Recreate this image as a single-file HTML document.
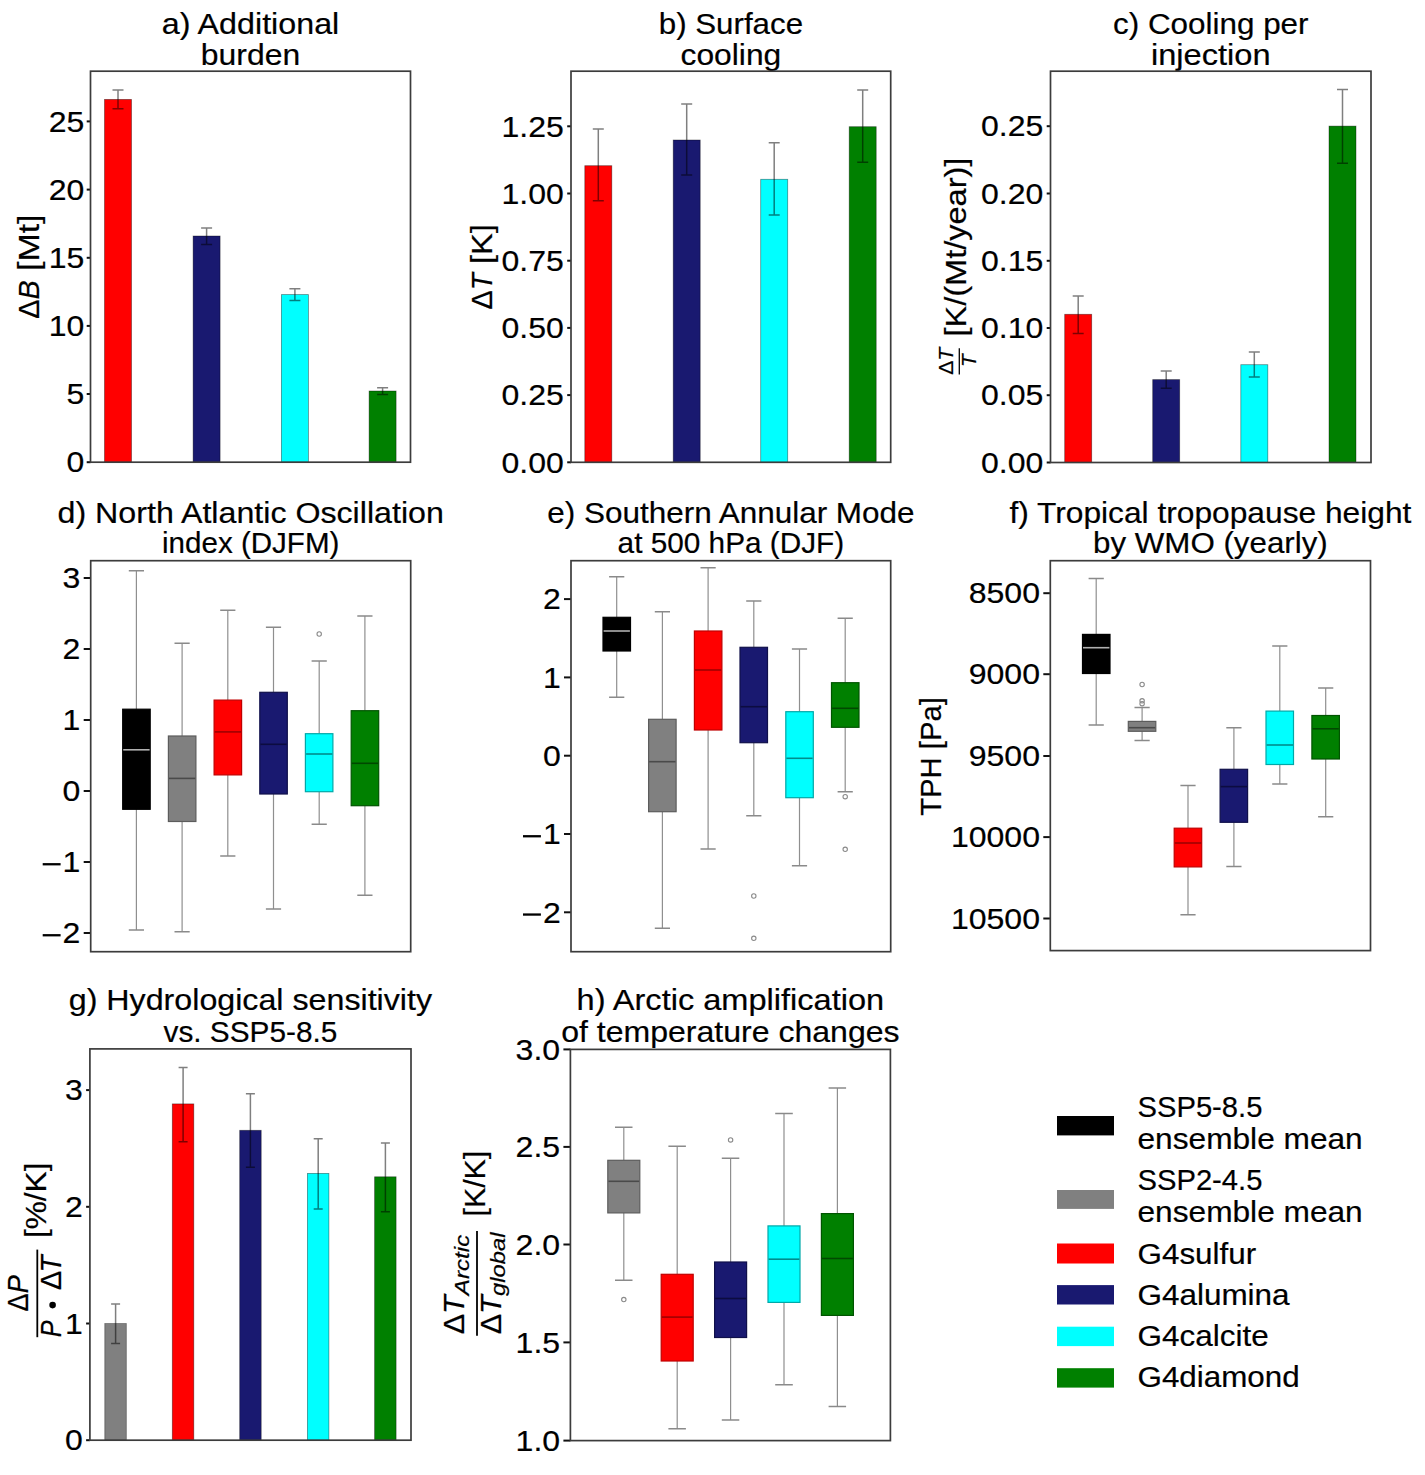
<!DOCTYPE html>
<html><head><meta charset="utf-8"><title>Figure</title>
<style>
html,body{margin:0;padding:0;background:#fff;}
body{width:1425px;height:1475px;overflow:hidden;}
svg{display:block;}
text{font-family:"Liberation Sans",sans-serif;fill:#000;stroke:#000;stroke-width:0.2px;}
</style></head>
<body>
<svg width="1425" height="1475" viewBox="0 0 1425 1475">
<rect width="1425" height="1475" fill="#fff"/>
<text x="250.5" y="33.8" font-size="29.5" text-anchor="middle" textLength="177.5" lengthAdjust="spacingAndGlyphs">a) Additional</text>
<text x="250.5" y="65.4" font-size="29.5" text-anchor="middle" textLength="99.3" lengthAdjust="spacingAndGlyphs">burden</text>
<line x1="86.7" y1="462.2" x2="90.5" y2="462.2" stroke="#111" stroke-width="2"/>
<text x="84.3" y="472.4" font-size="29.5" text-anchor="end" textLength="17.8" lengthAdjust="spacingAndGlyphs">0</text>
<line x1="86.7" y1="394.0" x2="90.5" y2="394.0" stroke="#111" stroke-width="2"/>
<text x="84.3" y="404.2" font-size="29.5" text-anchor="end" textLength="17.8" lengthAdjust="spacingAndGlyphs">5</text>
<line x1="86.7" y1="325.9" x2="90.5" y2="325.9" stroke="#111" stroke-width="2"/>
<text x="84.3" y="336.1" font-size="29.5" text-anchor="end" textLength="35.6" lengthAdjust="spacingAndGlyphs">10</text>
<line x1="86.7" y1="257.8" x2="90.5" y2="257.8" stroke="#111" stroke-width="2"/>
<text x="84.3" y="267.9" font-size="29.5" text-anchor="end" textLength="35.6" lengthAdjust="spacingAndGlyphs">15</text>
<line x1="86.7" y1="189.6" x2="90.5" y2="189.6" stroke="#111" stroke-width="2"/>
<text x="84.3" y="199.8" font-size="29.5" text-anchor="end" textLength="35.6" lengthAdjust="spacingAndGlyphs">20</text>
<line x1="86.7" y1="121.4" x2="90.5" y2="121.4" stroke="#111" stroke-width="2"/>
<text x="84.3" y="131.6" font-size="29.5" text-anchor="end" textLength="35.6" lengthAdjust="spacingAndGlyphs">25</text>
<rect x="104.5" y="99.4" width="27.0" height="362.8" fill="#ff0000" stroke="rgba(0,0,0,0.45)" stroke-width="0.8"/>
<path d="M118.0 90.1V108.7M112.5 90.1H123.5M112.5 108.7H123.5" stroke="#000" stroke-opacity="0.5" stroke-width="1.5" fill="none"/>
<rect x="193.1" y="236.0" width="27.0" height="226.2" fill="#191970" stroke="rgba(0,0,0,0.45)" stroke-width="0.8"/>
<path d="M206.6 227.9V244.4M201.1 227.9H212.1M201.1 244.4H212.1" stroke="#000" stroke-opacity="0.5" stroke-width="1.5" fill="none"/>
<rect x="281.4" y="294.6" width="27.0" height="167.6" fill="#00ffff" stroke="rgba(0,0,0,0.45)" stroke-width="0.8"/>
<path d="M294.9 288.7V300.5M289.4 288.7H300.4M289.4 300.5H300.4" stroke="#000" stroke-opacity="0.5" stroke-width="1.5" fill="none"/>
<rect x="369.1" y="391.0" width="27.0" height="71.2" fill="#008000" stroke="rgba(0,0,0,0.45)" stroke-width="0.8"/>
<path d="M382.6 387.8V394.4M377.1 387.8H388.1M377.1 394.4H388.1" stroke="#000" stroke-opacity="0.5" stroke-width="1.5" fill="none"/>
<rect x="90.5" y="71.2" width="320.0" height="391.0" fill="none" stroke="#3c3c3c" stroke-width="1.7"/>
<text x="730.9" y="33.8" font-size="29.5" text-anchor="middle" textLength="144.3" lengthAdjust="spacingAndGlyphs">b) Surface</text>
<text x="730.9" y="65.4" font-size="29.5" text-anchor="middle" textLength="100.7" lengthAdjust="spacingAndGlyphs">cooling</text>
<line x1="567.2" y1="462.3" x2="571.0" y2="462.3" stroke="#111" stroke-width="2"/>
<text x="563.8" y="472.5" font-size="29.5" text-anchor="end" textLength="62.3" lengthAdjust="spacingAndGlyphs">0.00</text>
<line x1="567.2" y1="395.1" x2="571.0" y2="395.1" stroke="#111" stroke-width="2"/>
<text x="563.8" y="405.3" font-size="29.5" text-anchor="end" textLength="62.3" lengthAdjust="spacingAndGlyphs">0.25</text>
<line x1="567.2" y1="327.9" x2="571.0" y2="327.9" stroke="#111" stroke-width="2"/>
<text x="563.8" y="338.1" font-size="29.5" text-anchor="end" textLength="62.3" lengthAdjust="spacingAndGlyphs">0.50</text>
<line x1="567.2" y1="260.7" x2="571.0" y2="260.7" stroke="#111" stroke-width="2"/>
<text x="563.8" y="270.9" font-size="29.5" text-anchor="end" textLength="62.3" lengthAdjust="spacingAndGlyphs">0.75</text>
<line x1="567.2" y1="193.5" x2="571.0" y2="193.5" stroke="#111" stroke-width="2"/>
<text x="563.8" y="203.7" font-size="29.5" text-anchor="end" textLength="62.3" lengthAdjust="spacingAndGlyphs">1.00</text>
<line x1="567.2" y1="126.3" x2="571.0" y2="126.3" stroke="#111" stroke-width="2"/>
<text x="563.8" y="136.5" font-size="29.5" text-anchor="end" textLength="62.3" lengthAdjust="spacingAndGlyphs">1.25</text>
<rect x="584.8" y="165.7" width="27.0" height="296.6" fill="#ff0000" stroke="rgba(0,0,0,0.45)" stroke-width="0.8"/>
<path d="M598.3 129.0V200.7M592.8 129.0H603.8M592.8 200.7H603.8" stroke="#000" stroke-opacity="0.5" stroke-width="1.5" fill="none"/>
<rect x="673.2" y="140.0" width="27.0" height="322.3" fill="#191970" stroke="rgba(0,0,0,0.45)" stroke-width="0.8"/>
<path d="M686.7 104.0V175.0M681.2 104.0H692.2M681.2 175.0H692.2" stroke="#000" stroke-opacity="0.5" stroke-width="1.5" fill="none"/>
<rect x="760.7" y="179.3" width="27.0" height="283.0" fill="#00ffff" stroke="rgba(0,0,0,0.45)" stroke-width="0.8"/>
<path d="M774.2 142.7V215.0M768.7 142.7H779.7M768.7 215.0H779.7" stroke="#000" stroke-opacity="0.5" stroke-width="1.5" fill="none"/>
<rect x="849.2" y="126.7" width="27.0" height="335.6" fill="#008000" stroke="rgba(0,0,0,0.45)" stroke-width="0.8"/>
<path d="M862.7 90.0V162.3M857.2 90.0H868.2M857.2 162.3H868.2" stroke="#000" stroke-opacity="0.5" stroke-width="1.5" fill="none"/>
<rect x="571.0" y="71.2" width="319.7" height="391.1" fill="none" stroke="#3c3c3c" stroke-width="1.7"/>
<text x="1210.8" y="33.8" font-size="29.5" text-anchor="middle" textLength="195.5" lengthAdjust="spacingAndGlyphs">c) Cooling per</text>
<text x="1210.8" y="65.4" font-size="29.5" text-anchor="middle" textLength="119.6" lengthAdjust="spacingAndGlyphs">injection</text>
<line x1="1046.7" y1="462.5" x2="1050.5" y2="462.5" stroke="#111" stroke-width="2"/>
<text x="1043.3" y="472.7" font-size="29.5" text-anchor="end" textLength="62.3" lengthAdjust="spacingAndGlyphs">0.00</text>
<line x1="1046.7" y1="395.2" x2="1050.5" y2="395.2" stroke="#111" stroke-width="2"/>
<text x="1043.3" y="405.4" font-size="29.5" text-anchor="end" textLength="62.3" lengthAdjust="spacingAndGlyphs">0.05</text>
<line x1="1046.7" y1="328.0" x2="1050.5" y2="328.0" stroke="#111" stroke-width="2"/>
<text x="1043.3" y="338.2" font-size="29.5" text-anchor="end" textLength="62.3" lengthAdjust="spacingAndGlyphs">0.10</text>
<line x1="1046.7" y1="260.8" x2="1050.5" y2="260.8" stroke="#111" stroke-width="2"/>
<text x="1043.3" y="270.9" font-size="29.5" text-anchor="end" textLength="62.3" lengthAdjust="spacingAndGlyphs">0.15</text>
<line x1="1046.7" y1="193.5" x2="1050.5" y2="193.5" stroke="#111" stroke-width="2"/>
<text x="1043.3" y="203.7" font-size="29.5" text-anchor="end" textLength="62.3" lengthAdjust="spacingAndGlyphs">0.20</text>
<line x1="1046.7" y1="126.2" x2="1050.5" y2="126.2" stroke="#111" stroke-width="2"/>
<text x="1043.3" y="136.4" font-size="29.5" text-anchor="end" textLength="62.3" lengthAdjust="spacingAndGlyphs">0.25</text>
<rect x="1064.7" y="314.3" width="27.0" height="148.2" fill="#ff0000" stroke="rgba(0,0,0,0.45)" stroke-width="0.8"/>
<path d="M1078.2 296.0V333.4M1072.7 296.0H1083.7M1072.7 333.4H1083.7" stroke="#000" stroke-opacity="0.5" stroke-width="1.5" fill="none"/>
<rect x="1152.7" y="379.6" width="27.0" height="82.9" fill="#191970" stroke="rgba(0,0,0,0.45)" stroke-width="0.8"/>
<path d="M1166.2 371.0V388.3M1160.7 371.0H1171.7M1160.7 388.3H1171.7" stroke="#000" stroke-opacity="0.5" stroke-width="1.5" fill="none"/>
<rect x="1240.8" y="364.7" width="27.0" height="97.8" fill="#00ffff" stroke="rgba(0,0,0,0.45)" stroke-width="0.8"/>
<path d="M1254.3 351.9V376.9M1248.8 351.9H1259.8M1248.8 376.9H1259.8" stroke="#000" stroke-opacity="0.5" stroke-width="1.5" fill="none"/>
<rect x="1329.0" y="126.1" width="27.0" height="336.4" fill="#008000" stroke="rgba(0,0,0,0.45)" stroke-width="0.8"/>
<path d="M1342.5 89.6V163.3M1337.0 89.6H1348.0M1337.0 163.3H1348.0" stroke="#000" stroke-opacity="0.5" stroke-width="1.5" fill="none"/>
<rect x="1050.5" y="71.2" width="320.5" height="391.3" fill="none" stroke="#3c3c3c" stroke-width="1.7"/>
<text x="250.7" y="522.6" font-size="29.5" text-anchor="middle" textLength="386.3" lengthAdjust="spacingAndGlyphs">d) North Atlantic Oscillation</text>
<text x="250.7" y="553.4" font-size="29.5" text-anchor="middle" textLength="177.4" lengthAdjust="spacingAndGlyphs">index (DJFM)</text>
<line x1="83.7" y1="578.0" x2="90.7" y2="578.0" stroke="#111" stroke-width="2"/>
<text x="80.4" y="588.2" font-size="29.5" text-anchor="end" textLength="17.8" lengthAdjust="spacingAndGlyphs">3</text>
<line x1="83.7" y1="649.0" x2="90.7" y2="649.0" stroke="#111" stroke-width="2"/>
<text x="80.4" y="659.2" font-size="29.5" text-anchor="end" textLength="17.8" lengthAdjust="spacingAndGlyphs">2</text>
<line x1="83.7" y1="720.0" x2="90.7" y2="720.0" stroke="#111" stroke-width="2"/>
<text x="80.4" y="730.2" font-size="29.5" text-anchor="end" textLength="17.8" lengthAdjust="spacingAndGlyphs">1</text>
<line x1="83.7" y1="791.0" x2="90.7" y2="791.0" stroke="#111" stroke-width="2"/>
<text x="80.4" y="801.2" font-size="29.5" text-anchor="end" textLength="17.8" lengthAdjust="spacingAndGlyphs">0</text>
<line x1="83.7" y1="862.0" x2="90.7" y2="862.0" stroke="#111" stroke-width="2"/>
<text x="80.4" y="872.2" font-size="29.5" text-anchor="end" textLength="17.8" lengthAdjust="spacingAndGlyphs">1</text>
<rect x="42.7" y="863.1" width="17.9" height="2.3" fill="#000"/>
<line x1="83.7" y1="933.0" x2="90.7" y2="933.0" stroke="#111" stroke-width="2"/>
<text x="80.4" y="943.2" font-size="29.5" text-anchor="end" textLength="17.8" lengthAdjust="spacingAndGlyphs">2</text>
<rect x="42.7" y="934.1" width="17.9" height="2.3" fill="#000"/>
<path d="M136.4 570.8V709.2M136.4 809.3V930.0" stroke="#8f8f8f" stroke-width="1.2" fill="none"/>
<path d="M128.8 570.8H144.0M128.8 930.0H144.0" stroke="#8a8a8a" stroke-width="1.5" fill="none"/>
<rect x="122.7" y="709.2" width="27.5" height="100.1" fill="#000000" stroke="#000" stroke-width="1.2"/>
<line x1="123.2" y1="749.8" x2="149.6" y2="749.8" stroke="#b0b0b0" stroke-width="1.6"/>
<path d="M182.1 643.3V736.0M182.1 821.5V931.7" stroke="#8f8f8f" stroke-width="1.2" fill="none"/>
<path d="M174.5 643.3H189.7M174.5 931.7H189.7" stroke="#8a8a8a" stroke-width="1.5" fill="none"/>
<rect x="168.4" y="736.0" width="27.5" height="85.5" fill="#808080" stroke="#5c5c5c" stroke-width="1.2"/>
<line x1="169.0" y1="778.4" x2="195.3" y2="778.4" stroke="#4a4a4a" stroke-width="1.6"/>
<path d="M227.8 610.3V700.1M227.8 774.9V856.0" stroke="#8f8f8f" stroke-width="1.2" fill="none"/>
<path d="M220.2 610.3H235.4M220.2 856.0H235.4" stroke="#8a8a8a" stroke-width="1.5" fill="none"/>
<rect x="214.1" y="700.1" width="27.5" height="74.8" fill="#ff0000" stroke="#c00000" stroke-width="1.2"/>
<line x1="214.7" y1="731.9" x2="241.0" y2="731.9" stroke="#a00000" stroke-width="1.6"/>
<path d="M273.5 627.3V692.3M273.5 794.0V909.0" stroke="#8f8f8f" stroke-width="1.2" fill="none"/>
<path d="M265.9 627.3H281.1M265.9 909.0H281.1" stroke="#8a8a8a" stroke-width="1.5" fill="none"/>
<rect x="259.8" y="692.3" width="27.5" height="101.7" fill="#191970" stroke="#10104a" stroke-width="1.2"/>
<line x1="260.4" y1="744.3" x2="286.6" y2="744.3" stroke="#0c0c40" stroke-width="1.6"/>
<path d="M319.2 661.0V733.7M319.2 791.7V824.3" stroke="#8f8f8f" stroke-width="1.2" fill="none"/>
<path d="M311.6 661.0H326.8M311.6 824.3H326.8" stroke="#8a8a8a" stroke-width="1.5" fill="none"/>
<rect x="305.4" y="733.7" width="27.5" height="58.0" fill="#00ffff" stroke="#00a8a8" stroke-width="1.2"/>
<line x1="306.1" y1="754.0" x2="332.3" y2="754.0" stroke="#008c8c" stroke-width="1.6"/>
<circle cx="319.2" cy="634.0" r="2.2" fill="none" stroke="#8a8a8a" stroke-width="1.1"/>
<path d="M364.9 616.0V710.7M364.9 805.7V895.3" stroke="#8f8f8f" stroke-width="1.2" fill="none"/>
<path d="M357.3 616.0H372.5M357.3 895.3H372.5" stroke="#8a8a8a" stroke-width="1.5" fill="none"/>
<rect x="351.2" y="710.7" width="27.5" height="95.0" fill="#008000" stroke="#005400" stroke-width="1.2"/>
<line x1="351.8" y1="763.3" x2="378.1" y2="763.3" stroke="#004800" stroke-width="1.6"/>
<rect x="90.7" y="560.7" width="320.0" height="391.0" fill="none" stroke="#3c3c3c" stroke-width="1.7"/>
<text x="730.9" y="522.6" font-size="29.5" text-anchor="middle" textLength="367.4" lengthAdjust="spacingAndGlyphs">e) Southern Annular Mode</text>
<text x="730.9" y="553.4" font-size="29.5" text-anchor="middle" textLength="226.6" lengthAdjust="spacingAndGlyphs">at 500 hPa (DJF)</text>
<line x1="564.0" y1="599.1" x2="571.0" y2="599.1" stroke="#111" stroke-width="2"/>
<text x="560.7" y="609.3" font-size="29.5" text-anchor="end" textLength="17.8" lengthAdjust="spacingAndGlyphs">2</text>
<line x1="564.0" y1="677.4" x2="571.0" y2="677.4" stroke="#111" stroke-width="2"/>
<text x="560.7" y="687.6" font-size="29.5" text-anchor="end" textLength="17.8" lengthAdjust="spacingAndGlyphs">1</text>
<line x1="564.0" y1="755.7" x2="571.0" y2="755.7" stroke="#111" stroke-width="2"/>
<text x="560.7" y="765.9" font-size="29.5" text-anchor="end" textLength="17.8" lengthAdjust="spacingAndGlyphs">0</text>
<line x1="564.0" y1="834.0" x2="571.0" y2="834.0" stroke="#111" stroke-width="2"/>
<text x="560.7" y="844.2" font-size="29.5" text-anchor="end" textLength="17.8" lengthAdjust="spacingAndGlyphs">1</text>
<rect x="523.0" y="835.1" width="17.9" height="2.3" fill="#000"/>
<line x1="564.0" y1="912.3" x2="571.0" y2="912.3" stroke="#111" stroke-width="2"/>
<text x="560.7" y="922.5" font-size="29.5" text-anchor="end" textLength="17.8" lengthAdjust="spacingAndGlyphs">2</text>
<rect x="523.0" y="913.4" width="17.9" height="2.3" fill="#000"/>
<path d="M616.7 576.7V617.3M616.7 651.0V697.3" stroke="#8f8f8f" stroke-width="1.2" fill="none"/>
<path d="M609.1 576.7H624.3M609.1 697.3H624.3" stroke="#8a8a8a" stroke-width="1.5" fill="none"/>
<rect x="603.0" y="617.3" width="27.5" height="33.7" fill="#000000" stroke="#000" stroke-width="1.2"/>
<line x1="603.6" y1="631.0" x2="629.9" y2="631.0" stroke="#b0b0b0" stroke-width="1.6"/>
<path d="M662.4 611.7V719.3M662.4 811.7V928.3" stroke="#8f8f8f" stroke-width="1.2" fill="none"/>
<path d="M654.8 611.7H670.0M654.8 928.3H670.0" stroke="#8a8a8a" stroke-width="1.5" fill="none"/>
<rect x="648.6" y="719.3" width="27.5" height="92.4" fill="#808080" stroke="#5c5c5c" stroke-width="1.2"/>
<line x1="649.2" y1="761.7" x2="675.5" y2="761.7" stroke="#4a4a4a" stroke-width="1.6"/>
<path d="M708.1 567.7V631.0M708.1 730.0V849.0" stroke="#8f8f8f" stroke-width="1.2" fill="none"/>
<path d="M700.5 567.7H715.7M700.5 849.0H715.7" stroke="#8a8a8a" stroke-width="1.5" fill="none"/>
<rect x="694.4" y="631.0" width="27.5" height="99.0" fill="#ff0000" stroke="#c00000" stroke-width="1.2"/>
<line x1="695.0" y1="670.0" x2="721.2" y2="670.0" stroke="#a00000" stroke-width="1.6"/>
<path d="M753.8 601.0V647.3M753.8 742.7V815.7" stroke="#8f8f8f" stroke-width="1.2" fill="none"/>
<path d="M746.2 601.0H761.4M746.2 815.7H761.4" stroke="#8a8a8a" stroke-width="1.5" fill="none"/>
<rect x="740.0" y="647.3" width="27.5" height="95.4" fill="#191970" stroke="#10104a" stroke-width="1.2"/>
<line x1="740.6" y1="706.7" x2="766.9" y2="706.7" stroke="#0c0c40" stroke-width="1.6"/>
<circle cx="753.8" cy="896.0" r="2.2" fill="none" stroke="#8a8a8a" stroke-width="1.1"/>
<circle cx="753.8" cy="938.3" r="2.2" fill="none" stroke="#8a8a8a" stroke-width="1.1"/>
<path d="M799.5 649.0V711.7M799.5 797.7V865.7" stroke="#8f8f8f" stroke-width="1.2" fill="none"/>
<path d="M791.9 649.0H807.1M791.9 865.7H807.1" stroke="#8a8a8a" stroke-width="1.5" fill="none"/>
<rect x="785.8" y="711.7" width="27.5" height="86.0" fill="#00ffff" stroke="#00a8a8" stroke-width="1.2"/>
<line x1="786.4" y1="758.3" x2="812.6" y2="758.3" stroke="#008c8c" stroke-width="1.6"/>
<path d="M845.2 618.3V682.7M845.2 727.3V791.7" stroke="#8f8f8f" stroke-width="1.2" fill="none"/>
<path d="M837.6 618.3H852.8M837.6 791.7H852.8" stroke="#8a8a8a" stroke-width="1.5" fill="none"/>
<rect x="831.5" y="682.7" width="27.5" height="44.6" fill="#008000" stroke="#005400" stroke-width="1.2"/>
<line x1="832.1" y1="708.3" x2="858.4" y2="708.3" stroke="#004800" stroke-width="1.6"/>
<circle cx="845.2" cy="796.7" r="2.2" fill="none" stroke="#8a8a8a" stroke-width="1.1"/>
<circle cx="845.2" cy="849.3" r="2.2" fill="none" stroke="#8a8a8a" stroke-width="1.1"/>
<rect x="571.0" y="560.7" width="319.7" height="391.0" fill="none" stroke="#3c3c3c" stroke-width="1.7"/>
<text x="1210.4" y="522.6" font-size="29.5" text-anchor="middle" textLength="402.0" lengthAdjust="spacingAndGlyphs">f) Tropical tropopause height</text>
<text x="1210.4" y="553.4" font-size="29.5" text-anchor="middle" textLength="234.7" lengthAdjust="spacingAndGlyphs">by WMO (yearly)</text>
<line x1="1043.3" y1="593.2" x2="1050.3" y2="593.2" stroke="#111" stroke-width="2"/>
<text x="1040.0" y="603.4" font-size="29.5" text-anchor="end" textLength="71.3" lengthAdjust="spacingAndGlyphs">8500</text>
<line x1="1043.3" y1="674.2" x2="1050.3" y2="674.2" stroke="#111" stroke-width="2"/>
<text x="1040.0" y="684.4" font-size="29.5" text-anchor="end" textLength="71.3" lengthAdjust="spacingAndGlyphs">9000</text>
<line x1="1043.3" y1="756.0" x2="1050.3" y2="756.0" stroke="#111" stroke-width="2"/>
<text x="1040.0" y="766.2" font-size="29.5" text-anchor="end" textLength="71.3" lengthAdjust="spacingAndGlyphs">9500</text>
<line x1="1043.3" y1="837.1" x2="1050.3" y2="837.1" stroke="#111" stroke-width="2"/>
<text x="1040.0" y="847.3" font-size="29.5" text-anchor="end" textLength="89.1" lengthAdjust="spacingAndGlyphs">10000</text>
<line x1="1043.3" y1="918.5" x2="1050.3" y2="918.5" stroke="#111" stroke-width="2"/>
<text x="1040.0" y="928.7" font-size="29.5" text-anchor="end" textLength="89.1" lengthAdjust="spacingAndGlyphs">10500</text>
<path d="M1096.2 578.4V634.4M1096.2 673.5V725.1" stroke="#8f8f8f" stroke-width="1.2" fill="none"/>
<path d="M1088.6 578.4H1103.8M1088.6 725.1H1103.8" stroke="#8a8a8a" stroke-width="1.5" fill="none"/>
<rect x="1082.5" y="634.4" width="27.5" height="39.1" fill="#000000" stroke="#000" stroke-width="1.2"/>
<line x1="1083.0" y1="647.7" x2="1109.4" y2="647.7" stroke="#b0b0b0" stroke-width="1.6"/>
<path d="M1142.1 707.4V721.4M1142.1 731.3V740.5" stroke="#8f8f8f" stroke-width="1.2" fill="none"/>
<path d="M1134.5 707.4H1149.7M1134.5 740.5H1149.7" stroke="#8a8a8a" stroke-width="1.5" fill="none"/>
<rect x="1128.3" y="721.4" width="27.5" height="9.9" fill="#808080" stroke="#5c5c5c" stroke-width="1.2"/>
<line x1="1128.9" y1="727.7" x2="1155.2" y2="727.7" stroke="#4a4a4a" stroke-width="1.6"/>
<circle cx="1142.1" cy="684.5" r="2.2" fill="none" stroke="#8a8a8a" stroke-width="1.1"/>
<circle cx="1142.1" cy="700.8" r="2.2" fill="none" stroke="#8a8a8a" stroke-width="1.1"/>
<circle cx="1142.1" cy="703.7" r="2.2" fill="none" stroke="#8a8a8a" stroke-width="1.1"/>
<path d="M1188.0 785.5V828.2M1188.0 866.9V914.8" stroke="#8f8f8f" stroke-width="1.2" fill="none"/>
<path d="M1180.4 785.5H1195.6M1180.4 914.8H1195.6" stroke="#8a8a8a" stroke-width="1.5" fill="none"/>
<rect x="1174.2" y="828.2" width="27.5" height="38.7" fill="#ff0000" stroke="#c00000" stroke-width="1.2"/>
<line x1="1174.8" y1="843.0" x2="1201.2" y2="843.0" stroke="#a00000" stroke-width="1.6"/>
<path d="M1233.9 727.7V769.3M1233.9 822.3V866.6" stroke="#8f8f8f" stroke-width="1.2" fill="none"/>
<path d="M1226.3 727.7H1241.5M1226.3 866.6H1241.5" stroke="#8a8a8a" stroke-width="1.5" fill="none"/>
<rect x="1220.1" y="769.3" width="27.5" height="53.0" fill="#191970" stroke="#10104a" stroke-width="1.2"/>
<line x1="1220.7" y1="786.6" x2="1247.0" y2="786.6" stroke="#0c0c40" stroke-width="1.6"/>
<path d="M1279.8 645.9V711.1M1279.8 764.5V784.0" stroke="#8f8f8f" stroke-width="1.2" fill="none"/>
<path d="M1272.2 645.9H1287.4M1272.2 784.0H1287.4" stroke="#8a8a8a" stroke-width="1.5" fill="none"/>
<rect x="1266.0" y="711.1" width="27.5" height="53.4" fill="#00ffff" stroke="#00a8a8" stroke-width="1.2"/>
<line x1="1266.6" y1="745.0" x2="1293.0" y2="745.0" stroke="#008c8c" stroke-width="1.6"/>
<path d="M1325.7 687.9V715.5M1325.7 759.0V816.8" stroke="#8f8f8f" stroke-width="1.2" fill="none"/>
<path d="M1318.1 687.9H1333.3M1318.1 816.8H1333.3" stroke="#8a8a8a" stroke-width="1.5" fill="none"/>
<rect x="1311.9" y="715.5" width="27.5" height="43.5" fill="#008000" stroke="#005400" stroke-width="1.2"/>
<line x1="1312.5" y1="728.8" x2="1338.8" y2="728.8" stroke="#004800" stroke-width="1.6"/>
<rect x="1050.3" y="560.7" width="320.2" height="389.9" fill="none" stroke="#3c3c3c" stroke-width="1.7"/>
<text x="250.4" y="1010.3" font-size="29.5" text-anchor="middle" textLength="363.3" lengthAdjust="spacingAndGlyphs">g) Hydrological sensitivity</text>
<text x="250.4" y="1042.3" font-size="29.5" text-anchor="middle" textLength="173.8" lengthAdjust="spacingAndGlyphs">vs. SSP5-8.5</text>
<line x1="86.1" y1="1440.2" x2="89.9" y2="1440.2" stroke="#111" stroke-width="2"/>
<text x="82.7" y="1450.4" font-size="29.5" text-anchor="end" textLength="17.8" lengthAdjust="spacingAndGlyphs">0</text>
<line x1="86.1" y1="1323.5" x2="89.9" y2="1323.5" stroke="#111" stroke-width="2"/>
<text x="82.7" y="1333.7" font-size="29.5" text-anchor="end" textLength="17.8" lengthAdjust="spacingAndGlyphs">1</text>
<line x1="86.1" y1="1206.8" x2="89.9" y2="1206.8" stroke="#111" stroke-width="2"/>
<text x="82.7" y="1217.0" font-size="29.5" text-anchor="end" textLength="17.8" lengthAdjust="spacingAndGlyphs">2</text>
<line x1="86.1" y1="1090.1" x2="89.9" y2="1090.1" stroke="#111" stroke-width="2"/>
<text x="82.7" y="1100.3" font-size="29.5" text-anchor="end" textLength="17.8" lengthAdjust="spacingAndGlyphs">3</text>
<rect x="104.8" y="1323.6" width="21.5" height="116.6" fill="#808080" stroke="rgba(0,0,0,0.45)" stroke-width="0.8"/>
<path d="M115.6 1304.0V1343.6M111.1 1304.0H120.1M111.1 1343.6H120.1" stroke="#000" stroke-opacity="0.5" stroke-width="1.5" fill="none"/>
<rect x="172.3" y="1103.9" width="21.5" height="336.3" fill="#ff0000" stroke="rgba(0,0,0,0.45)" stroke-width="0.8"/>
<path d="M183.1 1067.6V1141.8M178.6 1067.6H187.6M178.6 1141.8H187.6" stroke="#000" stroke-opacity="0.5" stroke-width="1.5" fill="none"/>
<rect x="239.7" y="1130.3" width="21.5" height="309.9" fill="#191970" stroke="rgba(0,0,0,0.45)" stroke-width="0.8"/>
<path d="M250.4 1093.7V1167.3M245.9 1093.7H254.9M245.9 1167.3H254.9" stroke="#000" stroke-opacity="0.5" stroke-width="1.5" fill="none"/>
<rect x="307.4" y="1173.4" width="21.5" height="266.8" fill="#00ffff" stroke="rgba(0,0,0,0.45)" stroke-width="0.8"/>
<path d="M318.2 1138.8V1209.0M313.7 1138.8H322.7M313.7 1209.0H322.7" stroke="#000" stroke-opacity="0.5" stroke-width="1.5" fill="none"/>
<rect x="374.6" y="1176.8" width="21.5" height="263.4" fill="#008000" stroke="rgba(0,0,0,0.45)" stroke-width="0.8"/>
<path d="M385.4 1142.9V1211.7M380.9 1142.9H389.9M380.9 1211.7H389.9" stroke="#000" stroke-opacity="0.5" stroke-width="1.5" fill="none"/>
<rect x="89.9" y="1048.9" width="321.1" height="391.3" fill="none" stroke="#3c3c3c" stroke-width="1.7"/>
<text x="730.4" y="1010.3" font-size="29.5" text-anchor="middle" textLength="307.6" lengthAdjust="spacingAndGlyphs">h) Arctic amplification</text>
<text x="730.4" y="1042.3" font-size="29.5" text-anchor="middle" textLength="338.4" lengthAdjust="spacingAndGlyphs">of temperature changes</text>
<line x1="563.4" y1="1440.6" x2="570.4" y2="1440.6" stroke="#111" stroke-width="2"/>
<text x="560.1" y="1450.8" font-size="29.5" text-anchor="end" textLength="44.5" lengthAdjust="spacingAndGlyphs">1.0</text>
<line x1="563.4" y1="1342.4" x2="570.4" y2="1342.4" stroke="#111" stroke-width="2"/>
<text x="560.1" y="1352.6" font-size="29.5" text-anchor="end" textLength="44.5" lengthAdjust="spacingAndGlyphs">1.5</text>
<line x1="563.4" y1="1244.5" x2="570.4" y2="1244.5" stroke="#111" stroke-width="2"/>
<text x="560.1" y="1254.7" font-size="29.5" text-anchor="end" textLength="44.5" lengthAdjust="spacingAndGlyphs">2.0</text>
<line x1="563.4" y1="1146.9" x2="570.4" y2="1146.9" stroke="#111" stroke-width="2"/>
<text x="560.1" y="1157.1" font-size="29.5" text-anchor="end" textLength="44.5" lengthAdjust="spacingAndGlyphs">2.5</text>
<line x1="563.4" y1="1049.4" x2="570.4" y2="1049.4" stroke="#111" stroke-width="2"/>
<text x="560.1" y="1059.6" font-size="29.5" text-anchor="end" textLength="44.5" lengthAdjust="spacingAndGlyphs">3.0</text>
<path d="M623.8 1127.3V1160.3M623.8 1212.9V1280.3" stroke="#8f8f8f" stroke-width="1.2" fill="none"/>
<path d="M615.0 1127.3H632.5M615.0 1280.3H632.5" stroke="#8a8a8a" stroke-width="1.5" fill="none"/>
<rect x="607.8" y="1160.3" width="32.0" height="52.6" fill="#808080" stroke="#5c5c5c" stroke-width="1.2"/>
<line x1="608.4" y1="1181.3" x2="639.2" y2="1181.3" stroke="#4a4a4a" stroke-width="1.6"/>
<circle cx="623.8" cy="1299.6" r="2.2" fill="none" stroke="#8a8a8a" stroke-width="1.1"/>
<path d="M677.2 1146.2V1274.3M677.2 1361.0V1428.7" stroke="#8f8f8f" stroke-width="1.2" fill="none"/>
<path d="M668.4 1146.2H685.9M668.4 1428.7H685.9" stroke="#8a8a8a" stroke-width="1.5" fill="none"/>
<rect x="661.2" y="1274.3" width="32.0" height="86.7" fill="#ff0000" stroke="#c00000" stroke-width="1.2"/>
<line x1="661.8" y1="1317.1" x2="692.6" y2="1317.1" stroke="#a00000" stroke-width="1.6"/>
<path d="M730.6 1158.2V1262.0M730.6 1337.5V1419.9" stroke="#8f8f8f" stroke-width="1.2" fill="none"/>
<path d="M721.8 1158.2H739.3M721.8 1419.9H739.3" stroke="#8a8a8a" stroke-width="1.5" fill="none"/>
<rect x="714.6" y="1262.0" width="32.0" height="75.5" fill="#191970" stroke="#10104a" stroke-width="1.2"/>
<line x1="715.2" y1="1298.5" x2="746.0" y2="1298.5" stroke="#0c0c40" stroke-width="1.6"/>
<circle cx="730.6" cy="1139.9" r="2.2" fill="none" stroke="#8a8a8a" stroke-width="1.1"/>
<path d="M784.0 1113.6V1225.9M784.0 1302.4V1384.8" stroke="#8f8f8f" stroke-width="1.2" fill="none"/>
<path d="M775.2 1113.6H792.8M775.2 1384.8H792.8" stroke="#8a8a8a" stroke-width="1.5" fill="none"/>
<rect x="768.0" y="1225.9" width="32.0" height="76.5" fill="#00ffff" stroke="#00a8a8" stroke-width="1.2"/>
<line x1="768.6" y1="1259.2" x2="799.4" y2="1259.2" stroke="#008c8c" stroke-width="1.6"/>
<path d="M837.4 1088.0V1213.6M837.4 1315.4V1406.6" stroke="#8f8f8f" stroke-width="1.2" fill="none"/>
<path d="M828.6 1088.0H846.1M828.6 1406.6H846.1" stroke="#8a8a8a" stroke-width="1.5" fill="none"/>
<rect x="821.4" y="1213.6" width="32.0" height="101.8" fill="#008000" stroke="#005400" stroke-width="1.2"/>
<line x1="822.0" y1="1258.5" x2="852.8" y2="1258.5" stroke="#004800" stroke-width="1.6"/>
<rect x="570.4" y="1049.4" width="320.0" height="391.2" fill="none" stroke="#3c3c3c" stroke-width="1.7"/>
<rect x="1057" y="1116.0" width="57" height="19.4" fill="#000000"/>
<text x="1137.5" y="1116.9" font-size="29.5" text-anchor="start" textLength="124.9" lengthAdjust="spacingAndGlyphs">SSP5-8.5</text>
<text x="1137.5" y="1148.5" font-size="29.5" text-anchor="start" textLength="225.2" lengthAdjust="spacingAndGlyphs">ensemble mean</text>
<rect x="1057" y="1190.0" width="57" height="18.9" fill="#808080"/>
<text x="1137.5" y="1189.5" font-size="29.5" text-anchor="start" textLength="124.9" lengthAdjust="spacingAndGlyphs">SSP2-4.5</text>
<text x="1137.5" y="1221.9" font-size="29.5" text-anchor="start" textLength="225.2" lengthAdjust="spacingAndGlyphs">ensemble mean</text>
<rect x="1057" y="1243.5" width="57" height="20.0" fill="#ff0000"/>
<text x="1137.5" y="1263.5" font-size="29.5" text-anchor="start" textLength="118.7" lengthAdjust="spacingAndGlyphs">G4sulfur</text>
<rect x="1057" y="1285.1" width="57" height="19.4" fill="#191970"/>
<text x="1137.5" y="1304.5" font-size="29.5" text-anchor="start" textLength="152.1" lengthAdjust="spacingAndGlyphs">G4alumina</text>
<rect x="1057" y="1326.7" width="57" height="19.4" fill="#00ffff"/>
<text x="1137.5" y="1346.1" font-size="29.5" text-anchor="start" textLength="131.2" lengthAdjust="spacingAndGlyphs">G4calcite</text>
<rect x="1057" y="1368.2" width="57" height="19.4" fill="#008000"/>
<text x="1137.5" y="1387.1" font-size="29.5" text-anchor="start" textLength="162.2" lengthAdjust="spacingAndGlyphs">G4diamond</text>
<g transform="translate(39.1,266.6) rotate(-90)"><text x="-52.1" y="0" font-size="29.5" textLength="19.2" lengthAdjust="spacingAndGlyphs">Δ</text><text x="-33.0" y="0" font-size="29.5" font-style="italic" textLength="19.2" lengthAdjust="spacingAndGlyphs">B</text><text x="-13.8" y="0" font-size="29.5" textLength="65.9" lengthAdjust="spacingAndGlyphs"> [Mt]</text></g>
<g transform="translate(491.8,266.8) rotate(-90)"><text x="-42.7" y="0" font-size="29.5" textLength="19.2" lengthAdjust="spacingAndGlyphs">Δ</text><text x="-23.5" y="0" font-size="29.5" font-style="italic" textLength="17.1" lengthAdjust="spacingAndGlyphs">T</text><text x="-6.4" y="0" font-size="29.5" textLength="49.1" lengthAdjust="spacingAndGlyphs"> [K]</text></g>
<g transform="translate(940.5,756.5) rotate(-90)"><text x="-59.3" y="0" font-size="29.5" textLength="118.6" lengthAdjust="spacingAndGlyphs">TPH [Pa]</text></g>
<g transform="translate(966,0) rotate(-90)"><text x="-336.6" y="0" font-size="29.5" textLength="179.0" lengthAdjust="spacingAndGlyphs">[K/(Mt/year)]</text><text x="-374.8" y="-13.1" font-size="20.7" textLength="27" lengthAdjust="spacingAndGlyphs">Δ<tspan font-style="italic">T</tspan></text><line x1="-374.5" y1="-6.7" x2="-348.2" y2="-6.7" stroke="#000" stroke-width="1.3"/><text x="-367.0" y="10.4" font-size="20.7" font-style="italic">T</text></g>
<g transform="translate(45.5,0) rotate(-90)"><text x="-1238.0" y="0" font-size="29.5" textLength="75.4" lengthAdjust="spacingAndGlyphs">[%/K]</text><text x="-1311.5" y="-17.7" font-size="29.5" textLength="36.3" lengthAdjust="spacingAndGlyphs">Δ<tspan font-style="italic">P</tspan></text><line x1="-1337.2" y1="-8.2" x2="-1249.6" y2="-8.2" stroke="#000" stroke-width="1.8"/><text x="-1337.2" y="15.7" font-size="29.5" font-style="italic" textLength="16.9" lengthAdjust="spacingAndGlyphs">P</text><circle cx="-1305.1" cy="7.1" r="3.3" fill="#000"/><text x="-1290.0" y="15.7" font-size="29.5" textLength="19.2" lengthAdjust="spacingAndGlyphs">Δ</text><text x="-1272.5" y="15.7" font-size="29.5" font-style="italic" textLength="17.1" lengthAdjust="spacingAndGlyphs">T</text></g>
<g transform="translate(484.5,0) rotate(-90)"><text x="-1216.5" y="0" font-size="29.5" textLength="65.8" lengthAdjust="spacingAndGlyphs">[K/K]</text><text x="-1334.3" y="-21.0" font-size="29.5" textLength="39" lengthAdjust="spacingAndGlyphs">Δ<tspan font-style="italic">T</tspan></text><text x="-1295.2" y="-16.0" font-size="20.3" font-style="italic" textLength="60.5" lengthAdjust="spacingAndGlyphs">Arctic</text><line x1="-1335.7" y1="-7.5" x2="-1231.1" y2="-7.5" stroke="#000" stroke-width="1.8"/><text x="-1334.3" y="16.7" font-size="29.5" textLength="39" lengthAdjust="spacingAndGlyphs">Δ<tspan font-style="italic">T</tspan></text><text x="-1295.9" y="20.0" font-size="20.3" font-style="italic" textLength="63.4" lengthAdjust="spacingAndGlyphs">global</text></g>
</svg>
</body></html>
